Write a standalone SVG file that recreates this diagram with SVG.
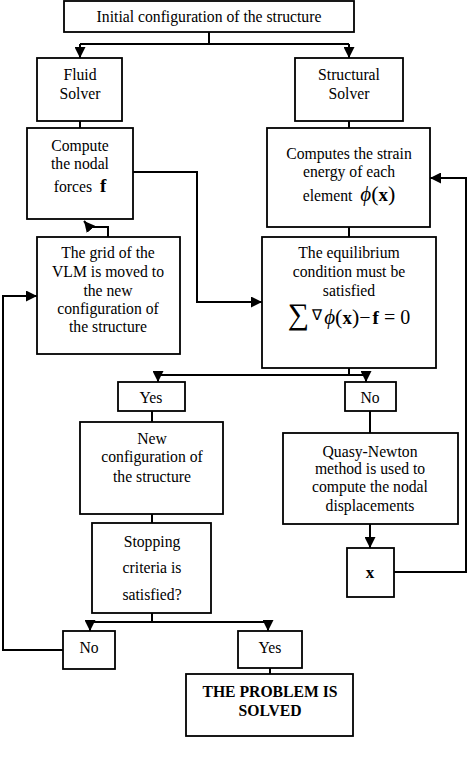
<svg xmlns="http://www.w3.org/2000/svg" width="474" height="767" viewBox="0 0 474 767">
<style>
.box{fill:#fff;stroke:#000;stroke-width:1.8}
.t{font-family:"Liberation Serif","Times New Roman",serif;font-size:15.7px;text-anchor:middle;fill:#000}
.b{font-weight:bold}
.c{fill:none;stroke:#000;stroke-width:2}
</style>
<defs>
<marker id="ah" markerUnits="userSpaceOnUse" markerWidth="11" markerHeight="11" refX="11" refY="5.5" orient="auto" viewBox="0 0 11 11">
<path d="M0,0 L11,5.5 L0,11 z" fill="#000"/>
</marker>
</defs>
<rect width="474" height="767" fill="#fff"/>
<g id="connectors">
<path class="c" d="M209,32 V44 M80,44 H349"/>
<path class="c" d="M80,44 V58" marker-end="url(#ah)"/>
<path class="c" d="M349,44 V58" marker-end="url(#ah)"/>
<path class="c" d="M80,121 V128 M349,121 V128 M349,227 V237"/>
<path class="c" d="M108,237 V227 H89 L84,221" marker-end="url(#ah)"/>
<path class="c" d="M133,172 H197 V302 H262" marker-end="url(#ah)"/>
<path class="c" d="M349,368 V375 M158,375 H366"/>
<path class="c" d="M158,375 V382" marker-end="url(#ah)"/>
<path class="c" d="M366,375 V382" marker-end="url(#ah)"/>
<path class="c" d="M152,411 V422 M152,514 V523"/>
<path class="c" d="M370,411 V433"/>
<path class="c" d="M370,524 V548" marker-end="url(#ah)"/>
<path class="c" d="M394,572 H466 V178 H430" marker-end="url(#ah)"/>
<path class="c" d="M152,613 V622 M90,622 H268"/>
<path class="c" d="M90,622 V631" marker-end="url(#ah)"/>
<path class="c" d="M268,622 V631" marker-end="url(#ah)"/>
<path class="c" d="M270,668 V674"/>
<path class="c" d="M63,650 H3 V296 H37" marker-end="url(#ah)"/>
</g>
<g id="initial">
<rect class="box" x="64" y="1" width="290" height="31"/>
<text class="t" x="209" y="22">Initial configuration of the structure</text>
</g>
<g id="fluid">
<rect class="box" x="37" y="58" width="85" height="63"/>
<text class="t" x="80" y="80">Fluid</text>
<text class="t" x="80" y="99">Solver</text>
</g>
<g id="structural">
<rect class="box" x="295" y="58" width="108" height="63"/>
<text class="t" x="349" y="80">Structural</text>
<text class="t" x="349" y="99">Solver</text>
</g>
<g id="compute-forces">
<rect class="box" x="27" y="128" width="106" height="91"/>
<text class="t" x="80" y="151">Compute</text>
<text class="t" x="80" y="169">the nodal</text>
<text class="t" x="80" y="192">forces <tspan class="b" style="font-size:19px" dx="4">f</tspan></text>
</g>
<g id="strain-energy">
<rect class="box" x="267" y="128" width="163" height="99"/>
<text class="t" x="349" y="159">Computes the strain</text>
<text class="t" x="349" y="177">energy of each</text>
<text class="t" x="349" y="201">element <tspan style="font-style:italic;font-size:21px" dx="4">ϕ</tspan><tspan style="font-size:22px">(</tspan><tspan class="b" style="font-size:19px">x</tspan><tspan style="font-size:22px">)</tspan></text>
</g>
<g id="grid">
<rect class="box" x="37" y="237" width="143" height="117"/>
<text class="t" x="108" y="258">The grid of the</text>
<text class="t" x="108" y="277">VLM is moved to</text>
<text class="t" x="108" y="296">the new</text>
<text class="t" x="108" y="314">configuration of</text>
<text class="t" x="108" y="332">the structure</text>
</g>
<g id="equilibrium">
<rect class="box" x="262" y="237" width="174" height="131"/>
<text class="t" x="349" y="258">The equilibrium</text>
<text class="t" x="349" y="277">condition must be</text>
<text class="t" x="349" y="296">satisfied</text>
<text class="t" x="349" y="324"><tspan style="font-size:30px">∑</tspan><tspan style="font-size:15px" dx="3" dy="-4">∇</tspan><tspan style="font-style:italic;font-size:21px" dx="2" dy="4">ϕ</tspan><tspan style="font-size:22px">(</tspan><tspan class="b" style="font-size:19px">x</tspan><tspan style="font-size:22px">)</tspan><tspan style="font-size:20px">−</tspan><tspan class="b" style="font-size:19px" dx="2">f</tspan><tspan style="font-size:20px" dx="5">=</tspan><tspan style="font-size:20px" dx="5">0</tspan></text>
</g>
<g id="yes1">
<rect class="box" x="118" y="382" width="67" height="29"/>
<text class="t" x="151" y="403">Yes</text>
</g>
<g id="no1">
<rect class="box" x="345" y="382" width="51" height="29"/>
<text class="t" x="370" y="403">No</text>
</g>
<g id="new-config">
<rect class="box" x="80" y="422" width="143" height="92"/>
<text class="t" x="152" y="444">New</text>
<text class="t" x="152" y="462">configuration of</text>
<text class="t" x="152" y="482">the structure</text>
</g>
<g id="quasy-newton">
<rect class="box" x="283" y="433" width="175" height="91"/>
<text class="t" x="370" y="457">Quasy-Newton</text>
<text class="t" x="370" y="474">method is used to</text>
<text class="t" x="370" y="492">compute the nodal</text>
<text class="t" x="370" y="511">displacements</text>
</g>
<g id="stopping">
<rect class="box" x="92" y="523" width="119" height="90"/>
<text class="t" x="152" y="547">Stopping</text>
<text class="t" x="152" y="573">criteria is</text>
<text class="t" x="152" y="600">satisfied?</text>
</g>
<g id="x-node">
<rect class="box" x="347" y="548" width="47" height="49"/>
<text class="t b" x="370" y="578" style="font-size:17px">x</text>
</g>
<g id="no2">
<rect class="box" x="63" y="631" width="52" height="38"/>
<text class="t" x="89" y="653">No</text>
</g>
<g id="yes2">
<rect class="box" x="238" y="631" width="64" height="37"/>
<text class="t" x="270" y="653">Yes</text>
</g>
<g id="solved">
<rect class="box" x="186" y="674" width="167" height="62"/>
<text class="t b" x="270" y="697">THE PROBLEM IS</text>
<text class="t b" x="270" y="716">SOLVED</text>
</g>
</svg>
